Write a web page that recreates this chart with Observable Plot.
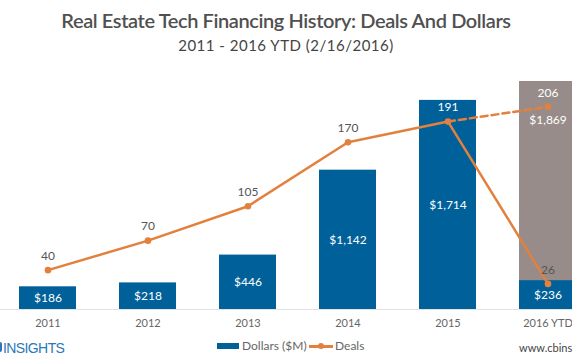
<!DOCTYPE html>
<html><head><meta charset="utf-8">
<script src="https://cdn.jsdelivr.net/npm/d3@7"></script>
<script src="https://cdn.jsdelivr.net/npm/@observablehq/plot@0.6"></script>
<style>
body{margin:0;overflow:hidden;background:#fff;font-family:Lato,"Open Sans",sans-serif}
#wrap{position:relative;width:572px;height:364px;overflow:hidden;background:#fff}
#title{position:absolute;top:8px;left:0;width:572px;text-align:center;font-size:20px;line-height:24px;color:#505050;font-weight:600;letter-spacing:-0.4px;white-space:nowrap}
#subtitle{position:absolute;top:36px;left:0;width:572px;text-align:center;font-size:15px;line-height:18px;color:#444;letter-spacing:0.5px;white-space:nowrap}
#chart{position:absolute;top:60px;left:0;width:572px;height:280px}
.leg{position:absolute;font-size:12px;line-height:14px;color:#666;white-space:nowrap}
#logo{position:absolute;top:340px;left:3px;font-size:14px;line-height:16px;color:#2b78b6;letter-spacing:-0.6px;white-space:nowrap;font-family:"Liberation Sans",sans-serif}
#url{position:absolute;top:341px;left:519px;font-size:11px;line-height:14px;color:#444;white-space:nowrap}
</style></head>
<body>
<div id="wrap">
  <div id="title">Real Estate Tech Financing History: Deals And Dollars</div>
  <div id="subtitle">2011 - 2016 YTD (2/16/2016)</div>
  <div id="chart"></div>
  <div style="position:absolute;left:0;top:342px;width:2px;height:10px;background:#2b78b6;border-radius:0 2px 2px 0"></div>
  <div style="position:absolute;left:217px;top:343px;width:22px;height:6px;background:#00609a"></div>
  <div class="leg" style="left:242px;top:339px">Dollars ($M)</div>
  <div style="position:absolute;left:309px;top:345px;width:24px;height:2.5px;background:#e3803d"></div>
  <div style="position:absolute;left:318px;top:343px;width:6px;height:6px;border-radius:3px;background:#e3803d"></div>
  <div class="leg" style="left:335px;top:339px">Deals</div>
  <div id="logo">INSIGHTS</div>
  <div id="url">www.cbinsights.com</div>
</div>
<script>
const years = ["2011", "2012", "2013", "2014", "2015", "2016 YTD"];
const dollars = [186, 218, 446, 1142, 1714, 236];
const deals = [40, 70, 105, 170, 191, 26];
const projectedYear = "2016 YTD";
const projectedDollars = 1869;
const projectedDeals = 206;

const blue = "#00609a", orange = "#e3803d", gray = "#978c89";
const dealsFactor = 2000 / 248; // deals axis shares the plot height with dollars

const rows = years.map((year, i) => ({year, dollars: dollars[i], deals: deals[i]}));
const projected = [{year: projectedYear, dollars: projectedDollars, deals: projectedDeals}];
const dashedRows = [rows[4], projected[0]];

const fmt = d3.format(",");

const chart = Plot.plot({
  width: 572,
  height: 280,
  marginTop: 5,
  marginBottom: 31,
  marginLeft: 0,
  marginRight: 0,
  style: {fontFamily: "Lato, 'Open Sans', sans-serif", background: "transparent"},
  x: {domain: years, range: [0, 594], paddingInner: 0.43, paddingOuter: 0.185, axis: null, label: null},
  y: {domain: [0, 2000], axis: null},
  marks: [
    Plot.barY(projected, {x: "year", y: "dollars", fill: gray}),
    Plot.barY(rows, {x: "year", y: "dollars", fill: blue}),
    Plot.ruleY([0], {stroke: "#e2e2e2", strokeWidth: 1}),
    Plot.axisX({tickSize: 0, tickPadding: 10, fontSize: 11, color: "#666", label: null}),
    Plot.text(rows, Plot.stackY({x: "year", y: "dollars", text: d => "$" + fmt(d.dollars), fill: "white", fontSize: 12})),
    Plot.text(projected, {x: "year", y: "dollars", text: d => "$" + fmt(d.dollars), fill: "white", fontSize: 12, dy: 39}),
    Plot.line(dashedRows, {x: "year", y: d => d.deals * dealsFactor, stroke: orange, strokeWidth: 2.5, strokeDasharray: "7,4"}),
    Plot.line(rows, {x: "year", y: d => d.deals * dealsFactor, stroke: orange, strokeWidth: 2.5}),
    Plot.dot([...rows, ...projected], {x: "year", y: d => d.deals * dealsFactor, r: 3.3, fill: orange}),
    Plot.text([...rows, ...projected], {x: "year", y: d => d.deals * dealsFactor, text: "deals", dy: -14, fontSize: 12,
      fill: d => (d.deals === 191 || d.deals === 206) ? "white" : "#555"})
  ]
});
document.getElementById("chart").appendChild(chart);
</script>
</body></html>
